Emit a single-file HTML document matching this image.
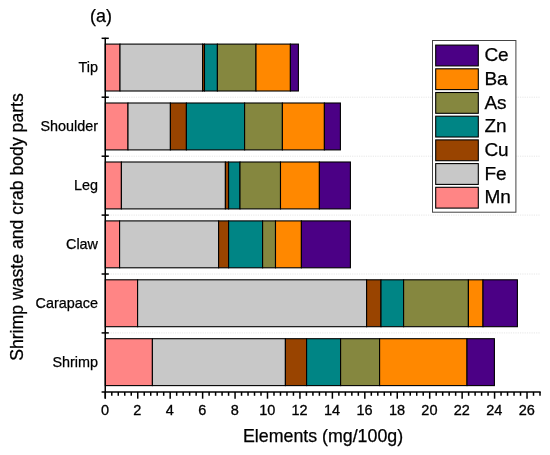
<!DOCTYPE html>
<html><head><meta charset="utf-8"><title>Figure (a)</title>
<style>
html,body{margin:0;padding:0;background:#fff;}
svg{display:block;}
text{font-family:"Liberation Sans",Arial,sans-serif;fill:#000;}
</style></head><body>
<svg width="550" height="455" viewBox="0 0 550 455">
<rect width="550" height="455" fill="#fff"/>
<g stroke="#e6e6e6" stroke-width="1" stroke-dasharray="1.2 1.1">
<line x1="106" y1="97.2" x2="540" y2="97.2"/>
<line x1="106" y1="156.2" x2="540" y2="156.2"/>
<line x1="106" y1="215.1" x2="540" y2="215.1"/>
<line x1="106" y1="274.0" x2="540" y2="274.0"/>
<line x1="106" y1="332.9" x2="540" y2="332.9"/>
</g>
<g stroke="#000" stroke-width="1.1">
<rect x="105.3" y="44.1" width="14.7" height="46.9" fill="#FF8585"/>
<rect x="120.0" y="44.1" width="82.6" height="46.9" fill="#C8C8C8"/>
<rect x="202.6" y="44.1" width="1.9" height="46.9" fill="#994400"/>
<rect x="204.5" y="44.1" width="12.9" height="46.9" fill="#008585"/>
<rect x="217.4" y="44.1" width="38.6" height="46.9" fill="#85873F"/>
<rect x="256.0" y="44.1" width="34.4" height="46.9" fill="#FF8800"/>
<rect x="290.4" y="44.1" width="8.0" height="46.9" fill="#4B0085"/>
<rect x="105.3" y="103.0" width="22.7" height="46.9" fill="#FF8585"/>
<rect x="128.0" y="103.0" width="42.4" height="46.9" fill="#C8C8C8"/>
<rect x="170.4" y="103.0" width="16.0" height="46.9" fill="#994400"/>
<rect x="186.4" y="103.0" width="58.2" height="46.9" fill="#008585"/>
<rect x="244.6" y="103.0" width="37.8" height="46.9" fill="#85873F"/>
<rect x="282.4" y="103.0" width="42.0" height="46.9" fill="#FF8800"/>
<rect x="324.4" y="103.0" width="16.0" height="46.9" fill="#4B0085"/>
<rect x="105.3" y="162.0" width="16.1" height="46.9" fill="#FF8585"/>
<rect x="121.4" y="162.0" width="104.0" height="46.9" fill="#C8C8C8"/>
<rect x="225.4" y="162.0" width="3.2" height="46.9" fill="#994400"/>
<rect x="228.6" y="162.0" width="11.4" height="46.9" fill="#008585"/>
<rect x="240.0" y="162.0" width="40.5" height="46.9" fill="#85873F"/>
<rect x="280.5" y="162.0" width="38.9" height="46.9" fill="#FF8800"/>
<rect x="319.4" y="162.0" width="31.0" height="46.9" fill="#4B0085"/>
<rect x="105.3" y="220.9" width="14.3" height="46.9" fill="#FF8585"/>
<rect x="119.6" y="220.9" width="99.0" height="46.9" fill="#C8C8C8"/>
<rect x="218.6" y="220.9" width="10.0" height="46.9" fill="#994400"/>
<rect x="228.6" y="220.9" width="34.0" height="46.9" fill="#008585"/>
<rect x="262.6" y="220.9" width="12.9" height="46.9" fill="#85873F"/>
<rect x="275.5" y="220.9" width="25.9" height="46.9" fill="#FF8800"/>
<rect x="301.4" y="220.9" width="49.0" height="46.9" fill="#4B0085"/>
<rect x="105.3" y="279.8" width="32.3" height="46.9" fill="#FF8585"/>
<rect x="137.6" y="279.8" width="229.0" height="46.9" fill="#C8C8C8"/>
<rect x="366.6" y="279.8" width="14.4" height="46.9" fill="#994400"/>
<rect x="381.0" y="279.8" width="22.6" height="46.9" fill="#008585"/>
<rect x="403.6" y="279.8" width="64.8" height="46.9" fill="#85873F"/>
<rect x="468.4" y="279.8" width="14.6" height="46.9" fill="#FF8800"/>
<rect x="483.0" y="279.8" width="34.4" height="46.9" fill="#4B0085"/>
<rect x="105.3" y="338.7" width="47.1" height="46.9" fill="#FF8585"/>
<rect x="152.4" y="338.7" width="133.0" height="46.9" fill="#C8C8C8"/>
<rect x="285.4" y="338.7" width="21.2" height="46.9" fill="#994400"/>
<rect x="306.6" y="338.7" width="34.0" height="46.9" fill="#008585"/>
<rect x="340.6" y="338.7" width="39.0" height="46.9" fill="#85873F"/>
<rect x="379.6" y="338.7" width="87.4" height="46.9" fill="#FF8800"/>
<rect x="467.0" y="338.7" width="27.4" height="46.9" fill="#4B0085"/>
</g>
<g stroke="#000" stroke-width="1.5" fill="none">
<line x1="105.25" y1="37.80" x2="105.25" y2="398.5"/>
<line x1="101.6" y1="391.95000000000005" x2="540.7" y2="391.95000000000005"/>
<line x1="101.6" y1="38.3" x2="108.8" y2="38.3"/>
<line x1="101.6" y1="97.2" x2="108.8" y2="97.2"/>
<line x1="101.6" y1="156.2" x2="108.8" y2="156.2"/>
<line x1="101.6" y1="215.1" x2="108.8" y2="215.1"/>
<line x1="101.6" y1="274.0" x2="108.8" y2="274.0"/>
<line x1="101.6" y1="332.9" x2="108.8" y2="332.9"/>
<line x1="105.30" y1="391.95000000000005" x2="105.30" y2="398.7"/>
<line x1="111.79" y1="391.95000000000005" x2="111.79" y2="395.8"/>
<line x1="118.28" y1="391.95000000000005" x2="118.28" y2="395.8"/>
<line x1="124.76" y1="391.95000000000005" x2="124.76" y2="395.8"/>
<line x1="131.25" y1="391.95000000000005" x2="131.25" y2="395.8"/>
<line x1="137.74" y1="391.95000000000005" x2="137.74" y2="398.7"/>
<line x1="144.23" y1="391.95000000000005" x2="144.23" y2="395.8"/>
<line x1="150.72" y1="391.95000000000005" x2="150.72" y2="395.8"/>
<line x1="157.20" y1="391.95000000000005" x2="157.20" y2="395.8"/>
<line x1="163.69" y1="391.95000000000005" x2="163.69" y2="395.8"/>
<line x1="170.18" y1="391.95000000000005" x2="170.18" y2="398.7"/>
<line x1="176.67" y1="391.95000000000005" x2="176.67" y2="395.8"/>
<line x1="183.16" y1="391.95000000000005" x2="183.16" y2="395.8"/>
<line x1="189.64" y1="391.95000000000005" x2="189.64" y2="395.8"/>
<line x1="196.13" y1="391.95000000000005" x2="196.13" y2="395.8"/>
<line x1="202.62" y1="391.95000000000005" x2="202.62" y2="398.7"/>
<line x1="209.11" y1="391.95000000000005" x2="209.11" y2="395.8"/>
<line x1="215.60" y1="391.95000000000005" x2="215.60" y2="395.8"/>
<line x1="222.08" y1="391.95000000000005" x2="222.08" y2="395.8"/>
<line x1="228.57" y1="391.95000000000005" x2="228.57" y2="395.8"/>
<line x1="235.06" y1="391.95000000000005" x2="235.06" y2="398.7"/>
<line x1="241.55" y1="391.95000000000005" x2="241.55" y2="395.8"/>
<line x1="248.04" y1="391.95000000000005" x2="248.04" y2="395.8"/>
<line x1="254.52" y1="391.95000000000005" x2="254.52" y2="395.8"/>
<line x1="261.01" y1="391.95000000000005" x2="261.01" y2="395.8"/>
<line x1="267.50" y1="391.95000000000005" x2="267.50" y2="398.7"/>
<line x1="273.99" y1="391.95000000000005" x2="273.99" y2="395.8"/>
<line x1="280.48" y1="391.95000000000005" x2="280.48" y2="395.8"/>
<line x1="286.96" y1="391.95000000000005" x2="286.96" y2="395.8"/>
<line x1="293.45" y1="391.95000000000005" x2="293.45" y2="395.8"/>
<line x1="299.94" y1="391.95000000000005" x2="299.94" y2="398.7"/>
<line x1="306.43" y1="391.95000000000005" x2="306.43" y2="395.8"/>
<line x1="312.92" y1="391.95000000000005" x2="312.92" y2="395.8"/>
<line x1="319.40" y1="391.95000000000005" x2="319.40" y2="395.8"/>
<line x1="325.89" y1="391.95000000000005" x2="325.89" y2="395.8"/>
<line x1="332.38" y1="391.95000000000005" x2="332.38" y2="398.7"/>
<line x1="338.87" y1="391.95000000000005" x2="338.87" y2="395.8"/>
<line x1="345.36" y1="391.95000000000005" x2="345.36" y2="395.8"/>
<line x1="351.84" y1="391.95000000000005" x2="351.84" y2="395.8"/>
<line x1="358.33" y1="391.95000000000005" x2="358.33" y2="395.8"/>
<line x1="364.82" y1="391.95000000000005" x2="364.82" y2="398.7"/>
<line x1="371.31" y1="391.95000000000005" x2="371.31" y2="395.8"/>
<line x1="377.80" y1="391.95000000000005" x2="377.80" y2="395.8"/>
<line x1="384.28" y1="391.95000000000005" x2="384.28" y2="395.8"/>
<line x1="390.77" y1="391.95000000000005" x2="390.77" y2="395.8"/>
<line x1="397.26" y1="391.95000000000005" x2="397.26" y2="398.7"/>
<line x1="403.75" y1="391.95000000000005" x2="403.75" y2="395.8"/>
<line x1="410.24" y1="391.95000000000005" x2="410.24" y2="395.8"/>
<line x1="416.72" y1="391.95000000000005" x2="416.72" y2="395.8"/>
<line x1="423.21" y1="391.95000000000005" x2="423.21" y2="395.8"/>
<line x1="429.70" y1="391.95000000000005" x2="429.70" y2="398.7"/>
<line x1="436.19" y1="391.95000000000005" x2="436.19" y2="395.8"/>
<line x1="442.68" y1="391.95000000000005" x2="442.68" y2="395.8"/>
<line x1="449.16" y1="391.95000000000005" x2="449.16" y2="395.8"/>
<line x1="455.65" y1="391.95000000000005" x2="455.65" y2="395.8"/>
<line x1="462.14" y1="391.95000000000005" x2="462.14" y2="398.7"/>
<line x1="468.63" y1="391.95000000000005" x2="468.63" y2="395.8"/>
<line x1="475.12" y1="391.95000000000005" x2="475.12" y2="395.8"/>
<line x1="481.60" y1="391.95000000000005" x2="481.60" y2="395.8"/>
<line x1="488.09" y1="391.95000000000005" x2="488.09" y2="395.8"/>
<line x1="494.58" y1="391.95000000000005" x2="494.58" y2="398.7"/>
<line x1="501.07" y1="391.95000000000005" x2="501.07" y2="395.8"/>
<line x1="507.56" y1="391.95000000000005" x2="507.56" y2="395.8"/>
<line x1="514.04" y1="391.95000000000005" x2="514.04" y2="395.8"/>
<line x1="520.53" y1="391.95000000000005" x2="520.53" y2="395.8"/>
<line x1="527.02" y1="391.95000000000005" x2="527.02" y2="398.7"/>
<line x1="533.51" y1="391.95000000000005" x2="533.51" y2="395.8"/>
<line x1="540.00" y1="391.95000000000005" x2="540.00" y2="395.8"/>
</g>
<g font-size="14.5" text-anchor="middle" stroke="#000" stroke-width="0.3">
<text x="105.0" y="414.6">0</text>
<text x="137.4" y="414.6">2</text>
<text x="169.9" y="414.6">4</text>
<text x="202.3" y="414.6">6</text>
<text x="234.8" y="414.6">8</text>
<text x="267.2" y="414.6">10</text>
<text x="299.6" y="414.6">12</text>
<text x="332.1" y="414.6">14</text>
<text x="364.5" y="414.6">16</text>
<text x="397.0" y="414.6">18</text>
<text x="429.4" y="414.6">20</text>
<text x="461.8" y="414.6">22</text>
<text x="494.3" y="414.6">24</text>
<text x="526.7" y="414.6">26</text>
</g>
<g font-size="14.4" text-anchor="end" stroke="#000" stroke-width="0.25">
<text x="98.0" y="71.9">Tip</text>
<text x="98.0" y="130.8">Shoulder</text>
<text x="98.0" y="189.7">Leg</text>
<text x="98.0" y="248.6">Claw</text>
<text x="98.0" y="307.6">Carapace</text>
<text x="98.0" y="366.5">Shrimp</text>
</g>
<text x="90.1" y="22" font-size="17.9" stroke="#000" stroke-width="0.25">(a)</text>
<text x="243" y="442.4" font-size="17.8" stroke="#000" stroke-width="0.25">Elements (mg/100g)</text>
<text transform="translate(22.8,227.0) rotate(-90)" text-anchor="middle" font-size="17.65" stroke="#000" stroke-width="0.25">Shrimp waste and crab body parts</text>
<rect x="432.5" y="40.5" width="83.4" height="171.7" fill="#fff" stroke="#444" stroke-width="1"/>
<g stroke="#000" stroke-width="1.1">
<rect x="435.7" y="45.1" width="42.6" height="20.8" fill="#4B0085"/>
<rect x="435.7" y="68.8" width="42.6" height="20.8" fill="#FF8800"/>
<rect x="435.7" y="92.5" width="42.6" height="20.8" fill="#85873F"/>
<rect x="435.7" y="116.2" width="42.6" height="20.8" fill="#008585"/>
<rect x="435.7" y="139.9" width="42.6" height="20.8" fill="#994400"/>
<rect x="435.7" y="163.6" width="42.6" height="20.8" fill="#C8C8C8"/>
<rect x="435.7" y="187.3" width="42.6" height="20.8" fill="#FF8585"/>
</g>
<g font-size="19" stroke="#000" stroke-width="0.25">
<text x="484.4" y="61.1">Ce</text>
<text x="484.4" y="84.8">Ba</text>
<text x="484.4" y="108.5">As</text>
<text x="484.4" y="132.2">Zn</text>
<text x="484.4" y="155.9">Cu</text>
<text x="484.4" y="179.6">Fe</text>
<text x="484.4" y="203.3">Mn</text>
</g>
</svg>
</body></html>
